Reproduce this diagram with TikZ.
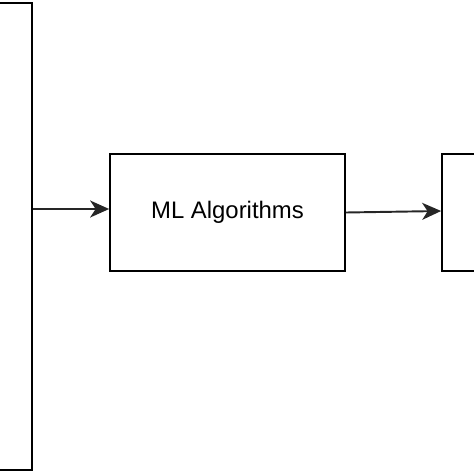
\documentclass[tikz,border=0pt]{standalone}
\usepackage{fontspec}
\setmainfont{Liberation Sans}
\usepackage{tikz}
\usetikzlibrary{positioning}
\usetikzlibrary{arrows.meta}

\begin{document}
\begin{tikzpicture}[x=0.02cm,y=-0.02cm,
    box/.style={draw=black, line width=1pt, fill=white, minimum width=4.7cm, minimum height=2.34cm, inner sep=0pt, font=\fontsize{13.6}{15}\selectfont},
    flow/.style={draw=black!85, line width=1.1pt, -{Stealth[length=0.38cm,width=0.34cm,inset=0.11cm]}}]
      \useasboundingbox (0,0) rectangle (474,474);

      \node[draw=black, line width=1pt, minimum width=3.28cm, minimum height=9.34cm] (data) at (-50,236.5) {};
      \node[box] (mlalg) at (227.5,212.5) {\raisebox{-0.04cm}{ML Algorithms}};
      \node[box] (result) at (559.5,212.5) {};

      \draw[flow] ([yshift=0.07cm]data.east |- mlalg.west) -- ([yshift=0.07cm]mlalg.west);
      \draw[flow] (mlalg.east) -- ([yshift=0.03cm]result.west);
    \end{tikzpicture}
\end{document}
